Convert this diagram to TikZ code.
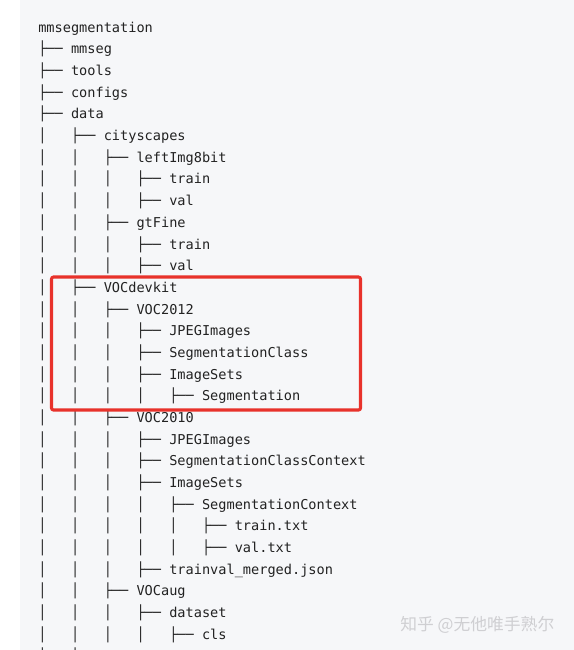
\documentclass[tikz,border=0pt]{standalone}
\usepackage{fontspec}
\setmonofont{DejaVu Sans Mono}
\newfontfamily\cjk{Noto Sans CJK SC}
\definecolor{codebg}{HTML}{F6F7F9}
\definecolor{codefg}{HTML}{222222}
\definecolor{boxred}{HTML}{E8322B}
\definecolor{wmark}{HTML}{CFCFD2}
\def\Vb{│~~~}
\def\Tb{├──~}
\tikzset{
  treeline/.style={anchor=base west, inner sep=0pt, text=codefg,
    font=\ttfamily\fontsize{10.2pt}{12pt}\selectfont},
  highlight/.style={draw=boxred, line width=2.3pt, rounded corners=1.5pt},
  watermark/.style={anchor=west, inner sep=0pt, text=wmark,
    font=\cjk\fontsize{12.6pt}{14pt}\selectfont}
}
\begin{document}
\begin{tikzpicture}[x=0.75pt, y=-0.75pt]
\useasboundingbox (0,0) rectangle (574,650);
\fill[white] (0,0) rectangle (574,650);
\fill[codebg] (20,0) rectangle (574,650);
\begin{scope}
\clip (0,0) rectangle (574,650);
\def\dy{21.68}
\def\by{32.2}
\node[treeline] (l1) at (38,\by) {mmsegmentation};
\node[treeline] (l2) at (38,\by+1*\dy) {\Tb mmseg};
\node[treeline] (l3) at (38,\by+2*\dy) {\Tb tools};
\node[treeline] (l4) at (38,\by+3*\dy) {\Tb configs};
\node[treeline] (l5) at (38,\by+4*\dy) {\Tb data};
\node[treeline] (l6) at (38,\by+5*\dy) {\Vb\Tb cityscapes};
\node[treeline] (l7) at (38,\by+6*\dy) {\Vb\Vb\Tb leftImg8bit};
\node[treeline] (l8) at (38,\by+7*\dy) {\Vb\Vb\Vb\Tb train};
\node[treeline] (l9) at (38,\by+8*\dy) {\Vb\Vb\Vb\Tb val};
\node[treeline] (l10) at (38,\by+9*\dy) {\Vb\Vb\Tb gtFine};
\node[treeline] (l11) at (38,\by+10*\dy) {\Vb\Vb\Vb\Tb train};
\node[treeline] (l12) at (38,\by+11*\dy) {\Vb\Vb\Vb\Tb val};
\node[treeline] (l13) at (38,\by+12*\dy) {\Vb\Tb VOCdevkit};
\node[treeline] (l14) at (38,\by+13*\dy) {\Vb\Vb\Tb VOC2012};
\node[treeline] (l15) at (38,\by+14*\dy) {\Vb\Vb\Vb\Tb JPEGImages};
\node[treeline] (l16) at (38,\by+15*\dy) {\Vb\Vb\Vb\Tb SegmentationClass};
\node[treeline] (l17) at (38,\by+16*\dy) {\Vb\Vb\Vb\Tb ImageSets};
\node[treeline] (l18) at (38,\by+17*\dy) {\Vb\Vb\Vb\Vb\Tb Segmentation};
\node[treeline] (l19) at (38,\by+18*\dy) {\Vb\Vb\Tb VOC2010};
\node[treeline] (l20) at (38,\by+19*\dy) {\Vb\Vb\Vb\Tb JPEGImages};
\node[treeline] (l21) at (38,\by+20*\dy) {\Vb\Vb\Vb\Tb SegmentationClassContext};
\node[treeline] (l22) at (38,\by+21*\dy) {\Vb\Vb\Vb\Tb ImageSets};
\node[treeline] (l23) at (38,\by+22*\dy) {\Vb\Vb\Vb\Vb\Tb SegmentationContext};
\node[treeline] (l24) at (38,\by+23*\dy) {\Vb\Vb\Vb\Vb\Vb\Tb train.txt};
\node[treeline] (l25) at (38,\by+24*\dy) {\Vb\Vb\Vb\Vb\Vb\Tb val.txt};
\node[treeline] (l26) at (38,\by+25*\dy) {\Vb\Vb\Vb\Tb trainval\_merged.json};
\node[treeline] (l27) at (38,\by+26*\dy) {\Vb\Vb\Tb VOCaug};
\node[treeline] (l28) at (38,\by+27*\dy) {\Vb\Vb\Vb\Tb dataset};
\node[treeline] (l29) at (38,\by+28*\dy) {\Vb\Vb\Vb\Vb\Tb cls};
\node[treeline] (l30) at (38,\by+29*\dy) {\Vb│};
\end{scope}
\draw[highlight] (51.5,277) rectangle (360.5,410);
\node[watermark] (wm) at (400,625) {知乎 @无他唯手熟尔};
\end{tikzpicture}
\end{document}
